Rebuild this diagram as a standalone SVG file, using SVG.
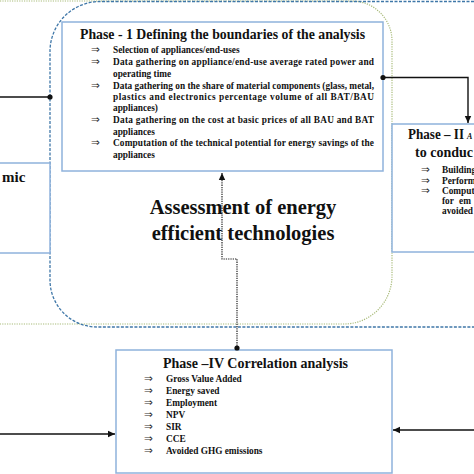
<svg xmlns="http://www.w3.org/2000/svg" width="474" height="474" viewBox="0 0 474 474">
<defs>
<style>
.box{fill:#fff;stroke:#8fb2dc;stroke-width:1.5}
.t{font-family:"Liberation Serif","Times New Roman",serif;font-weight:bold;fill:#111}
.ttl{font-size:14px}
.b{font-size:9.3px}
.ar{font-family:"DejaVu Sans","Liberation Sans",sans-serif;font-size:10.5px;fill:#333}
.blue{fill:none;stroke:#3f77a8;stroke-width:1.3;stroke-dasharray:3 1.5}
.green{fill:none;stroke:#a9bb7a;stroke-width:1.2;stroke-dasharray:1.2 1.2}
.con{fill:none;stroke:#111;stroke-width:1.4}
.dot{fill:none;stroke:#222;stroke-width:1.2;stroke-dasharray:1.3 1}
</style>
<marker id="ah" markerWidth="8" markerHeight="8" refX="7" refY="4" orient="auto" markerUnits="userSpaceOnUse">
<path d="M0,0.8 L7,4 L0,7.2 Z" fill="#111"/>
</marker>
</defs>
<rect width="474" height="474" fill="#fff"/>

<g id="containers">
<path class="green" d="M0,1 H352 A40 40 0 0 1 392,41 V276 A48 48 0 0 1 344,324 H0"/>
<path class="blue" d="M474,1.5 H100 A50 50 0 0 0 50,51.5 V280 A47 47 0 0 0 97,327 H474"/>
</g>

<g id="economic">
<rect class="box" x="-5" y="163" width="55" height="90"/>
<text class="t" x="2" y="182" font-size="15">mic</text>
</g>

<g id="phase1">
<rect class="box" x="62" y="22" width="321" height="149"/>
<text class="t ttl" x="80" y="39" textLength="285" lengthAdjust="spacingAndGlyphs">Phase - 1 Defining the boundaries of the analysis</text>
<g class="ar">
<text x="91" y="53">⇒</text><text x="91" y="65">⇒</text><text x="91" y="88.5">⇒</text><text x="91" y="123">⇒</text><text x="91" y="146">⇒</text>
</g>
<g class="t b">
<text x="113" y="53">Selection of appliances/end-uses</text>
<text x="113" y="65" textLength="261" lengthAdjust="spacing">Data gathering on appliance/end-use average rated power and</text>
<text x="113" y="76.5">operating time</text>
<text x="113" y="88.5" textLength="261" lengthAdjust="spacing">Data gathering on the share of material components (glass, metal,</text>
<text x="113" y="100" textLength="261" lengthAdjust="spacing">plastics and electronics percentage volume of all BAT/BAU</text>
<text x="113" y="111">appliances)</text>
<text x="113" y="123" textLength="261" lengthAdjust="spacing">Data gathering on the cost at basic prices of all BAU and BAT</text>
<text x="113" y="134.5">appliances</text>
<text x="113" y="146" textLength="261" lengthAdjust="spacing">Computation of the technical potential for energy savings of the</text>
<text x="113" y="157.5">appliances</text>
</g>
</g>

<g id="phase2">
<rect class="box" x="392" y="124" width="90" height="128"/>
<text class="t ttl" x="408" y="139" textLength="56" lengthAdjust="spacingAndGlyphs">Phase – II</text>
<text class="t" x="467" y="139" font-size="8" font-style="italic">A</text>
<text class="t ttl" x="415" y="157">to conduc</text>
<g class="ar">
<text x="421" y="173">⇒</text><text x="421" y="183.5">⇒</text><text x="421" y="194">⇒</text>
</g>
<g class="t b">
<text x="442" y="173">Building</text>
<text x="442" y="183.5">Perform</text>
<text x="442" y="194">Comput</text>
<text x="442" y="204">for</text>
<text x="459" y="204">em</text>
<text x="442" y="214">avoided</text>
</g>
</g>

<g id="center">
<text class="t" x="243" y="214" font-size="20.5" text-anchor="middle">Assessment of energy</text>
<text class="t" x="243" y="240" font-size="20.5" text-anchor="middle">efficient technologies</text>
</g>

<g id="phase4">
<rect class="box" x="116" y="350" width="276" height="123"/>
<text class="t ttl" x="163" y="368">Phase –IV Correlation analysis</text>
<g class="ar">
<text x="144" y="381.5">⇒</text><text x="144" y="393.5">⇒</text><text x="144" y="405.5">⇒</text><text x="144" y="417.5">⇒</text><text x="144" y="429.5">⇒</text><text x="144" y="441.5">⇒</text><text x="144" y="453.5">⇒</text>
</g>
<g class="t b">
<text x="166" y="381.5">Gross Value Added</text>
<text x="166" y="393.5">Energy saved</text>
<text x="166" y="405.5">Employment</text>
<text x="166" y="417.5">NPV</text>
<text x="166" y="429.5">SIR</text>
<text x="166" y="441.5">CCE</text>
<text x="166" y="453.5">Avoided GHG emissions</text>
</g>
</g>

<g id="connectors">
<path class="con" d="M0,97 H50"/>
<circle cx="50" cy="97" r="2.6" fill="#111"/>
<path class="con" d="M383,77.5 H468 V123" marker-end="url(#ah)"/>
<circle cx="383" cy="77.5" r="2.6" fill="#111"/>
<path class="dot" d="M237,348 V259 H222 V173" marker-end="url(#ah)"/>
<circle cx="237" cy="348" r="2.6" fill="#111"/>
<path class="con" d="M0,434 H115" marker-end="url(#ah)"/>
<path class="con" d="M474,430 H393" marker-end="url(#ah)"/>
</g>
</svg>
